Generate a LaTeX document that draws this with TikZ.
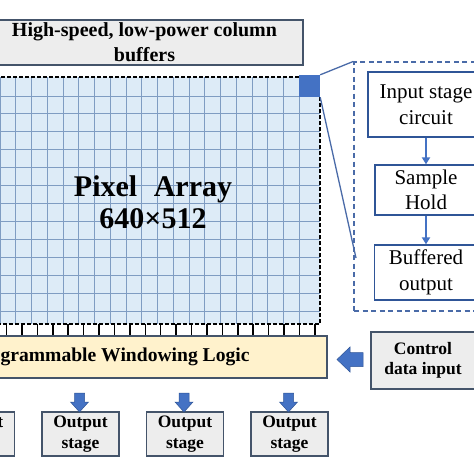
\documentclass[tikz,border=0pt]{standalone}
\usepackage{fontspec}
\setmainfont{Liberation Serif}
\usetikzlibrary{arrows.meta}
\definecolor{gridfill}{HTML}{DDEBF7}
\definecolor{gridline}{HTML}{7F9CC2}
\definecolor{ablue}{HTML}{4472C4}
\definecolor{adark}{HTML}{2F5597}
\definecolor{slate}{HTML}{44546A}
\definecolor{boxgray}{HTML}{EDEDED}
\definecolor{yell}{HTML}{FFF2CC}
\definecolor{lblue}{HTML}{4A6BA8}
\tikzset{
  graybox/.style={draw=slate, line width=1.2pt, fill=boxgray, align=center, inner sep=0pt,
    font=\bfseries\fontsize{17.5}{20.5}\selectfont},
  wbox/.style={draw=adark, line width=1.3pt, fill=white, align=center, inner sep=0pt,
    font=\fontsize{21}{25.5}\selectfont},
  blockarrow/.style={fill=ablue, draw=adark, line width=0.5pt},
  flowarrow/.style={-{Triangle[length=7pt,width=8pt]}, draw=ablue, line width=1.8pt},
  zoomline/.style={draw=lblue, line width=1.3pt},
  blackdash/.style={draw=black, line width=1.3pt, dash pattern=on 4pt off 2pt},
  gridln/.style={draw=gridline, line width=1pt}
}
\begin{document}
\begin{tikzpicture}[x=1pt,y=-1pt]
\useasboundingbox (0,0) rectangle (474,474);
\clip (0,0) rectangle (474,474);
\fill[white] (0,0) rectangle (474,474);

% column buffers box
\node[graybox, minimum width=317pt, minimum height=45pt,
  font=\bfseries\fontsize{20}{25}\selectfont] (colbuf) at (144.5,42.5)
  {High-speed, low-power column\\buffers};

% pixel array
\fill[gridfill] (-5,77) rectangle (320,324);
\foreach \i in {0,...,19}{
  \pgfmathsetmacro{\gx}{15.75*\i}
  \draw[gridln] (\gx,77) -- (\gx,324);
}
\foreach \j in {0,...,12}{
  \pgfmathsetmacro{\gy}{96+17.97*\j}
  \draw[gridln] (-5,\gy) -- (320,\gy);
}
\node[fill=ablue, minimum width=21pt, minimum height=22pt, inner sep=0pt] (sq) at (309.5,86) {};
\draw[blackdash] (-5,77) -- (299,77);
\draw[blackdash] (320,97) -- (320,324) -- (-5,324);
\node[font=\bfseries\fontsize{30}{32}\selectfont, align=center] (pa) at (153,202)
  {Pixel\hspace{0.3em} Array\\640×512};

% comb
\foreach \k in {0,...,20}{
  \pgfmathsetmacro{\tx}{6.5+15.42*\k}
  \draw[line width=1.5pt] (\tx,324) -- (\tx,336);
}

% windowing logic
\node[draw=slate, line width=1.2pt, fill=yell, minimum width=434pt, minimum height=42pt,
  inner sep=0pt, font=\bfseries\fontsize{19.6}{22}\selectfont] (logic) at (110,357)
  {Programmable Windowing Logic};

% control
\node[graybox, minimum width=104pt, minimum height=57pt] (ctrl) at (423,360.5)
  {Control\\data input};
\draw[blockarrow] (337,359.5) -- (350,347) -- (350,352.5) -- (363,352.5) -- (363,366.5)
  -- (350,366.5) -- (350,372) -- cycle;

% output stages
\foreach \n/\cx in {1/-24,2/80.5,3/185,4/289.5}{
  \node[graybox, minimum width=77pt, minimum height=44pt] (out\n) at (\cx,434) {Output\\stage};
  \draw[blockarrow] ({\cx-1-5},393) -- ({\cx-1+5},393) -- ({\cx-1+5},402) -- ({\cx-1+9},402)
    -- ({\cx-1},412) -- ({\cx-1-9},402) -- ({\cx-1-5},402) -- cycle;
}

% detail box
\node[draw=lblue, line width=1.2pt, dash pattern=on 5pt off 3.5pt, minimum width=136pt,
  minimum height=249pt, inner sep=0pt] (detail) at (422,186.5) {};
\node[wbox, minimum width=116pt, minimum height=65pt] (inp) at (426,104.5) {Input stage\\circuit};
\node[wbox, minimum width=102pt, minimum height=50pt] (smp) at (426,190) {Sample\\Hold};
\node[wbox, minimum width=103pt, minimum height=55pt] (buf) at (426,272.5) {Buffered\\output};
\draw[flowarrow] (inp.south) -- (smp.north);
\draw[flowarrow] (smp.south) -- (buf.north);
\coordinate (dl) at (356,258);
\draw[zoomline] (sq.north east) -- (detail.north west);
\draw[zoomline] (sq.south east) -- (dl);
\end{tikzpicture}
\end{document}
